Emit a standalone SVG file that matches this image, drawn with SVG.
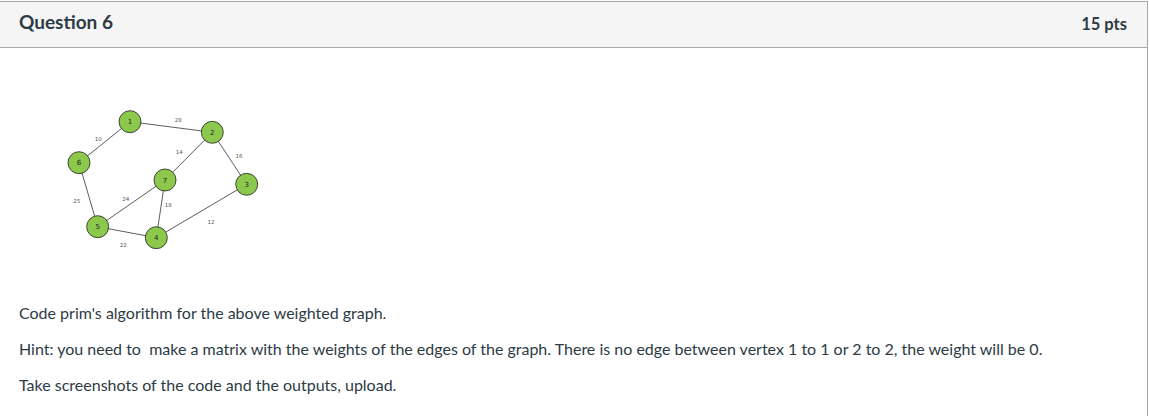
<svg xmlns="http://www.w3.org/2000/svg" width="1149" height="416" viewBox="0 0 1149 416">
<style>
.hdr{font-family:Lato,"Liberation Sans",sans-serif;font-weight:bold;fill:#2d3b45}
.body{font-family:Lato,"Liberation Sans",sans-serif;font-size:16px;fill:#2d3b45}
.edge{stroke:#333;stroke-width:0.8;fill:none}
.node circle{fill:#8cc84b;stroke:#222;stroke-width:0.8}
.node text{font-family:"DejaVu Sans",sans-serif;font-size:7px;fill:#222;text-anchor:middle}
.wl{font-family:"DejaVu Sans",sans-serif;font-size:5.5px;fill:#555;text-anchor:middle}
</style>
<rect x="0" y="0" width="1149" height="416" fill="#fff"/>
<rect x="0" y="1.5" width="1147.5" height="45.5" fill="#f5f5f5"/>
<line x1="0" y1="1.5" x2="1148" y2="1.5" stroke="#a8a8a8" stroke-width="1"/>
<line x1="0" y1="47.5" x2="1148" y2="47.5" stroke="#a8a8a8" stroke-width="1"/>
<line x1="1147.5" y1="1" x2="1147.5" y2="416" stroke="#a8a8a8" stroke-width="1"/>
<text class="hdr" x="19" y="29" font-size="19">Question 6</text>
<text class="hdr" x="1127" y="30" font-size="16.5" text-anchor="end">15 pts</text>
<g id="connectors">
<line class="edge" x1="130" y1="121.7" x2="212.3" y2="132.3"/>
<line class="edge" x1="130" y1="121.7" x2="79" y2="162.7"/>
<line class="edge" x1="212.3" y1="132.3" x2="165" y2="180"/>
<line class="edge" x1="212.3" y1="132.3" x2="246.7" y2="184.3"/>
<line class="edge" x1="79" y1="162.7" x2="97.7" y2="226.7"/>
<line class="edge" x1="165" y1="180" x2="97.7" y2="226.7"/>
<line class="edge" x1="165" y1="180" x2="156.3" y2="237.7"/>
<line class="edge" x1="246.7" y1="184.3" x2="156.3" y2="237.7"/>
<line class="edge" x1="97.7" y1="226.7" x2="156.3" y2="237.7"/>
<text class="wl" x="178.3" y="122">28</text>
<text class="wl" x="98.3" y="141">10</text>
<text class="wl" x="179.3" y="153.7">14</text>
<text class="wl" x="239" y="157.7">16</text>
<text class="wl" x="76.7" y="203">25</text>
<text class="wl" x="125.7" y="200.7">24</text>
<text class="wl" x="168.3" y="207.3">18</text>
<text class="wl" x="211" y="224.3">12</text>
<text class="wl" x="123.3" y="247">22</text>
</g>
<g id="n1" class="node"><circle cx="130" cy="121.7" r="11"/><text x="130" y="124.2">1</text></g>
<g id="n2" class="node"><circle cx="212.3" cy="132.3" r="11"/><text x="212.3" y="134.8">2</text></g>
<g id="n3" class="node"><circle cx="246.7" cy="184.3" r="11"/><text x="246.7" y="186.8">3</text></g>
<g id="n4" class="node"><circle cx="156.3" cy="237.7" r="11"/><text x="156.3" y="240.2">4</text></g>
<g id="n5" class="node"><circle cx="97.7" cy="226.7" r="11"/><text x="97.7" y="229.2">5</text></g>
<g id="n6" class="node"><circle cx="79" cy="162.7" r="11"/><text x="79" y="165.2">6</text></g>
<g id="n7" class="node"><circle cx="165" cy="180" r="11"/><text x="165" y="182.5">7</text></g>
<text class="body" x="19" y="319">Code prim's algorithm for the above weighted graph.</text>
<text class="body" x="19" y="355" xml:space="preserve">Hint: you need to  make a matrix with the weights of the edges of the graph. There is no edge between vertex 1 to 1 or 2 to 2, the weight will be 0.</text>
<text class="body" x="19" y="390.5">Take screenshots of the code and the outputs, upload.</text>
</svg>
